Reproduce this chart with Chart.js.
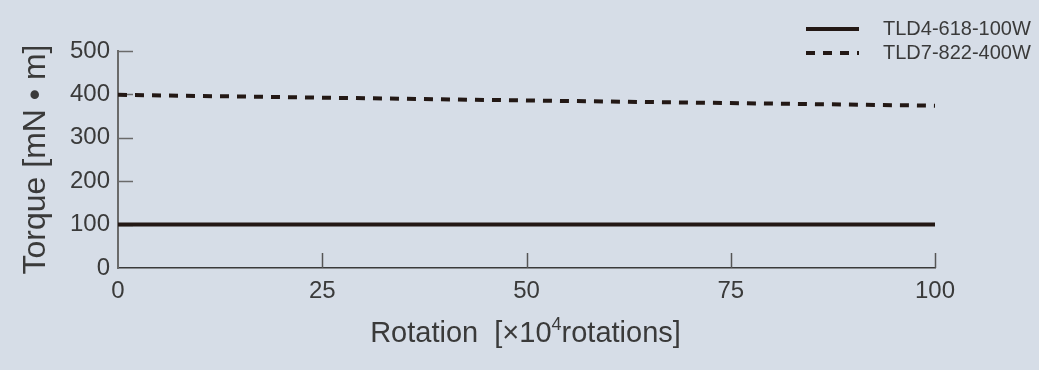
<!DOCTYPE html>
<html>
<head>
<meta charset="utf-8">
<script src="https://cdn.jsdelivr.net/npm/chart.js@4/dist/chart.umd.min.js"></script>
<style>
  html, body { margin: 0; padding: 0; background: #d6dde7; }
  #wrap { width: 1039px; height: 370px; }
</style>
</head>
<body>
<div id="wrap"><canvas id="c" width="1039" height="370"></canvas></div>
<script>
// ---- data ----
const seriesNames = ['TLD4-618-100W', 'TLD7-822-400W'];
const rotationX = [0, 50, 100];            // ×10^4 rotations
const torque100W = [100, 100, 100];        // mN·m
const torque400W = [399, 386, 374];        // mN·m
const xTicks = [0, 25, 50, 75, 100];
const yTicks = [0, 100, 200, 300, 400, 500];
const yTitle = 'Torque [mN • m]';
const xTitleParts = ['Rotation  [×10', '4', 'rotations]'];

const INK = '#231815';
const FONT = "'Liberation Sans', Arial, Helvetica, sans-serif";
const TEXT = '#3a3a3a';

const bgPlugin = {
  id: 'bg',
  beforeDraw(chart) {
    const ctx = chart.ctx;
    ctx.save();
    ctx.fillStyle = '#d6dde7';
    ctx.fillRect(0, 0, chart.width, chart.height);
    ctx.restore();
  }
};

// inward tick marks drawn at the scales' own tick positions
const inwardTicks = {
  id: 'inwardTicks',
  beforeDatasetsDraw(chart) {
    const ctx = chart.ctx;
    const x = chart.scales.x, y = chart.scales.y;
    ctx.save();
    ctx.lineWidth = 1.5;
    ctx.strokeStyle = '#6a6a6a';
    yTicks.forEach(v => {
      if (v === 0) return;
      const py = Math.round(y.getPixelForValue(v)) + 0.5;
      ctx.beginPath();
      ctx.moveTo(x.left, py);
      ctx.lineTo(x.left + 15, py);
      ctx.stroke();
    });
    ctx.strokeStyle = '#555555';
    xTicks.forEach(v => {
      if (v === 0) return;
      const px = Math.round(x.getPixelForValue(v)) + 0.5;
      ctx.beginPath();
      ctx.moveTo(px, y.bottom);
      ctx.lineTo(px, y.bottom - 15);
      ctx.stroke();
    });
    ctx.restore();
  }
};

// x title with superscript, and legend
const textPlugin = {
  id: 'texts',
  afterDraw(chart) {
    const ctx = chart.ctx;
    const ca = chart.chartArea;
    ctx.save();
    ctx.fillStyle = TEXT;
    ctx.textBaseline = 'alphabetic';
    // x axis title
    const big = '29px ' + FONT, small = '18px ' + FONT;
    ctx.font = big;
    const w0 = ctx.measureText(xTitleParts[0]).width;
    const w2 = ctx.measureText(xTitleParts[2]).width;
    ctx.font = small;
    const w1 = ctx.measureText(xTitleParts[1]).width;
    const total = w0 + w1 + w2;
    let sx = (ca.left + ca.right) / 2 - total / 2 - 1;
    const base = 342;
    ctx.font = big;
    ctx.textAlign = 'left';
    ctx.fillText(xTitleParts[0], sx, base);
    ctx.font = small;
    ctx.fillText(xTitleParts[1], sx + w0, base - 12);
    ctx.font = big;
    ctx.fillText(xTitleParts[2], sx + w0 + w1, base);

    // legend
    const items = chart.data.datasets;
    const lx0 = 806, lx1 = 859, tx = 883;
    const ly = [29, 53];
    items.forEach((ds, i) => {
      ctx.save();
      ctx.strokeStyle = ds.borderColor;
      ctx.lineWidth = ds.borderWidth;
      ctx.setLineDash(ds.borderDash || []);
      ctx.beginPath();
      ctx.moveTo(lx0, ly[i]);
      ctx.lineTo(lx1, ly[i]);
      ctx.stroke();
      ctx.restore();
      ctx.font = '20px ' + FONT;
      ctx.fillStyle = TEXT;
      ctx.textBaseline = 'middle';
      ctx.fillText(ds.label, tx, ly[i]);
    });
    ctx.restore();
  }
};

new Chart(document.getElementById('c'), {
  type: 'line',
  data: {
    datasets: [
      {
        label: seriesNames[0],
        data: rotationX.map((x, i) => ({ x, y: torque100W[i] })),
        borderColor: INK,
        borderWidth: 4,
        pointRadius: 0,
        tension: 0
      },
      {
        label: seriesNames[1],
        data: rotationX.map((x, i) => ({ x, y: torque400W[i] })),
        borderColor: INK,
        borderWidth: 4,
        borderDash: [9, 8],
        pointRadius: 0,
        tension: 0
      }
    ]
  },
  options: {
    responsive: false,
    animation: false,
    devicePixelRatio: 1,
    layout: { padding: { top: 51, right: 104, bottom: 0, left: 0 } },
    plugins: {
      legend: { display: false },
      tooltip: { enabled: false }
    },
    scales: {
      x: {
        type: 'linear',
        min: 0, max: 100,
        afterFit(s) { s.height = 102; },
        afterBuildTicks(s) { s.ticks = xTicks.map(v => ({ value: v })); },
        grid: { display: false, drawTicks: false },
        border: { display: true, color: '#3a3a3a', width: 1.5 },
        ticks: {
          padding: 9,
          color: TEXT,
          font: { family: FONT, size: 24, lineHeight: 1.2 },
          maxRotation: 0
        }
      },
      y: {
        type: 'linear',
        min: 0, max: 500,
        afterFit(s) { s.width = 118; },
        afterBuildTicks(s) { s.ticks = yTicks.map(v => ({ value: v })); },
        grid: { display: false, drawTicks: false },
        border: { display: true, color: '#6a6a6a', width: 2 },
        ticks: {
          padding: 8,
          color: TEXT,
          font: { family: FONT, size: 24, lineHeight: 1.2 }
        },
        title: {
          display: true,
          text: yTitle,
          color: TEXT,
          font: { family: FONT, size: 32, lineHeight: 1.2 },
          padding: { top: 17, bottom: 0 }
        }
      }
    }
  },
  plugins: [bgPlugin, inwardTicks, textPlugin]
});
</script>
</body>
</html>
